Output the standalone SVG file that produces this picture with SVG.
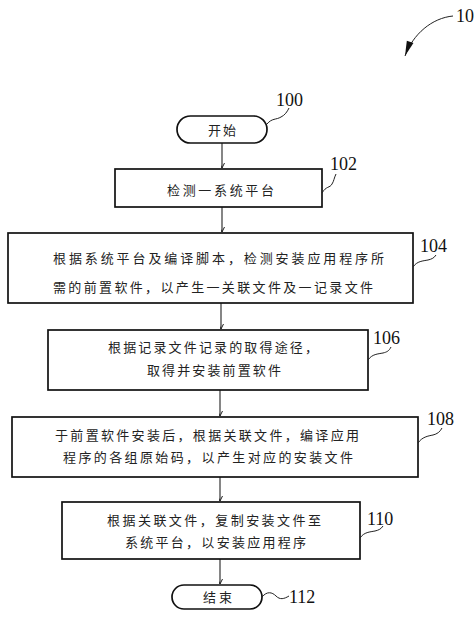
<svg xmlns="http://www.w3.org/2000/svg" width="474" height="620" viewBox="0 0 474 620">
<style>
.box{fill:#fff;stroke:#111;stroke-width:1.7}
.t{font-family:"Noto Sans CJK SC","Noto Sans",sans-serif;font-size:13px;fill:#222}
.lbl{font-family:"Liberation Serif",serif;font-size:18px;fill:#111}
.ld{fill:none;stroke:#222;stroke-width:1}
.ar{fill:none;stroke:#222;stroke-width:1.1}
</style>
<defs>
<marker id="oa" markerUnits="userSpaceOnUse" markerWidth="10" markerHeight="10" viewBox="-5 -9 10 10" refX="0" refY="0" orient="auto-start-reverse">
<path d="M-3.5,-7 L0,0 L3.5,-7" fill="none" stroke="#222" stroke-width="1" transform="rotate(-90)"/>
</marker>
<marker id="fa" markerUnits="userSpaceOnUse" markerWidth="20" markerHeight="10" viewBox="-16 -5 18 10" refX="0" refY="0" orient="auto">
<path d="M0,0 L-15,-3.5 L-15,3.5 Z" fill="#111"/>
</marker>
</defs>
<g id="ref10">
<path class="ld" d="M453,16 C432,18 413,34 405,56" stroke-width="1.2" marker-end="url(#fa)"/>
<text class="lbl" x="456" y="22">10</text>
</g>
<g id="connectors">
<line class="ar" x1="222" y1="143" x2="222" y2="168" marker-end="url(#oa)"/>
<line class="ar" x1="222" y1="207" x2="222" y2="232" marker-end="url(#oa)"/>
<line class="ar" x1="221" y1="303" x2="221" y2="329" marker-end="url(#oa)"/>
<line class="ar" x1="220" y1="390" x2="220" y2="416" marker-end="url(#oa)"/>
<line class="ar" x1="220" y1="477" x2="220" y2="501" marker-end="url(#oa)"/>
<line class="ar" x1="220" y1="559" x2="220" y2="584" marker-end="url(#oa)"/>
</g>
<g id="n100">
<rect class="box" x="177" y="116" width="90" height="27" rx="13.5"/>
<text class="t" x="208" y="135" textLength="28" lengthAdjust="spacing">开始</text>
<path class="ld" d="M267,124 C272,118 276,120 281,117 C285,115 287,112 289,108"/>
<text class="lbl" x="276" y="106">100</text>
</g>
<g id="n102">
<rect class="box" x="115" y="169" width="207" height="38"/>
<text class="t" x="167" y="195" textLength="107" lengthAdjust="spacing">检测一系统平台</text>
<path class="ld" d="M322,193 C326,186 330,188 332,184 C334,181 334,178 336,174"/>
<text class="lbl" x="330" y="170">102</text>
</g>
<g id="n104">
<rect class="box" x="8" y="233" width="405" height="70"/>
<text class="t" x="53" y="263" textLength="331" lengthAdjust="spacing">根据系统平台及编译脚本，检测安装应用程序所</text>
<text class="t" x="53" y="292" textLength="320" lengthAdjust="spacing">需的前置软件，以产生一关联文件及一记录文件</text>
<path class="ld" d="M413,267 C417,261 423,261 428,260 C432,259 434,258 436,255"/>
<text class="lbl" x="420" y="252">104</text>
</g>
<g id="n106">
<rect class="box" x="48" y="330" width="320" height="60"/>
<text class="t" x="108" y="352" textLength="210" lengthAdjust="spacing">根据记录文件记录的取得途径，</text>
<text class="t" x="147" y="375" textLength="134" lengthAdjust="spacing">取得并安装前置软件</text>
<path class="ld" d="M368,360 C372,354 378,354 383,353 C387,352 389,351 391,347"/>
<text class="lbl" x="373" y="344">106</text>
</g>
<g id="n108">
<rect class="box" x="12" y="417" width="406" height="60"/>
<text class="t" x="55" y="440" textLength="304" lengthAdjust="spacing">于前置软件安装后，根据关联文件，编译应用</text>
<text class="t" x="63" y="462" textLength="290" lengthAdjust="spacing">程序的各组原始码，以产生对应的安装文件</text>
<path class="ld" d="M418,443 C422,437 428,436 433,435 C437,434 440,432 442,428"/>
<text class="lbl" x="427" y="425">108</text>
</g>
<g id="n110">
<rect class="box" x="62" y="502" width="298" height="57"/>
<text class="t" x="107" y="525" textLength="214" lengthAdjust="spacing">根据关联文件，复制安装文件至</text>
<text class="t" x="125" y="547" textLength="181" lengthAdjust="spacing">系统平台，以安装应用程序</text>
<path class="ld" d="M360,538 C364,532 370,532 375,531 C379,530 381,529 383,526"/>
<text class="lbl" x="367" y="525">110</text>
</g>
<g id="n112">
<rect class="box" x="172" y="585" width="90" height="24" rx="12"/>
<text class="t" x="203" y="602" textLength="29" lengthAdjust="spacing">结束</text>
<path class="ld" d="M262,597 C267,591 272,592 276,596 C280,600 284,599 289,596"/>
<text class="lbl" x="289" y="603">112</text>
</g>
</svg>
